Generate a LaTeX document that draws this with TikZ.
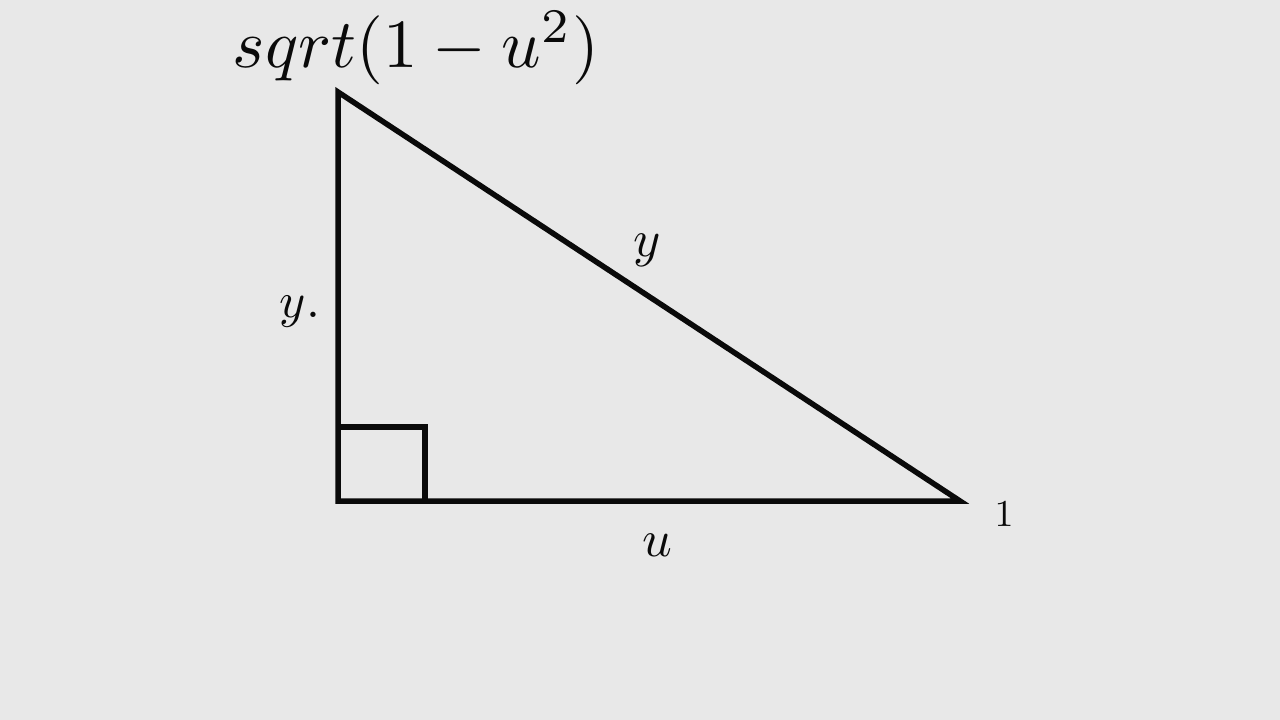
\documentclass[tikz,border=0pt]{standalone}
\usepackage{graphicx}
\definecolor{bg}{HTML}{E8E8E8}
\definecolor{ink}{HTML}{0A0A0A}
\begin{document}
\begin{tikzpicture}[x=1pt,y=-1pt,
  edge/.style={line width=5.5pt,draw=ink,line join=miter},
  lbl/.style={inner sep=0pt,text=ink}]
\fill[bg] (0,0) rectangle (1280,720);
\useasboundingbox (0,0) rectangle (1280,720);
\coordinate (A) at (338,92);
\coordinate (C) at (338,501);
\coordinate (B) at (960,501);
\draw[edge] (A) -- (C) -- (B) -- cycle;
\draw[edge] (338,427) -- (425,427) -- (425,501);
\node[lbl] (title) at (416,48) {\scalebox{6.9}{$sqrt(1-u^2)$}};
\node[lbl] (hyp) at (647,250) {\scalebox{5.2}{$y$}};
\node[lbl] (left) at (300,312) {\scalebox{5.0}{$y.$}};
\node[lbl] (base) at (657,545) {\scalebox{5.2}{$u$}};
\node[lbl] (one) at (1004,514) {\scalebox{3.8}{$1$}};
\end{tikzpicture}
\end{document}
